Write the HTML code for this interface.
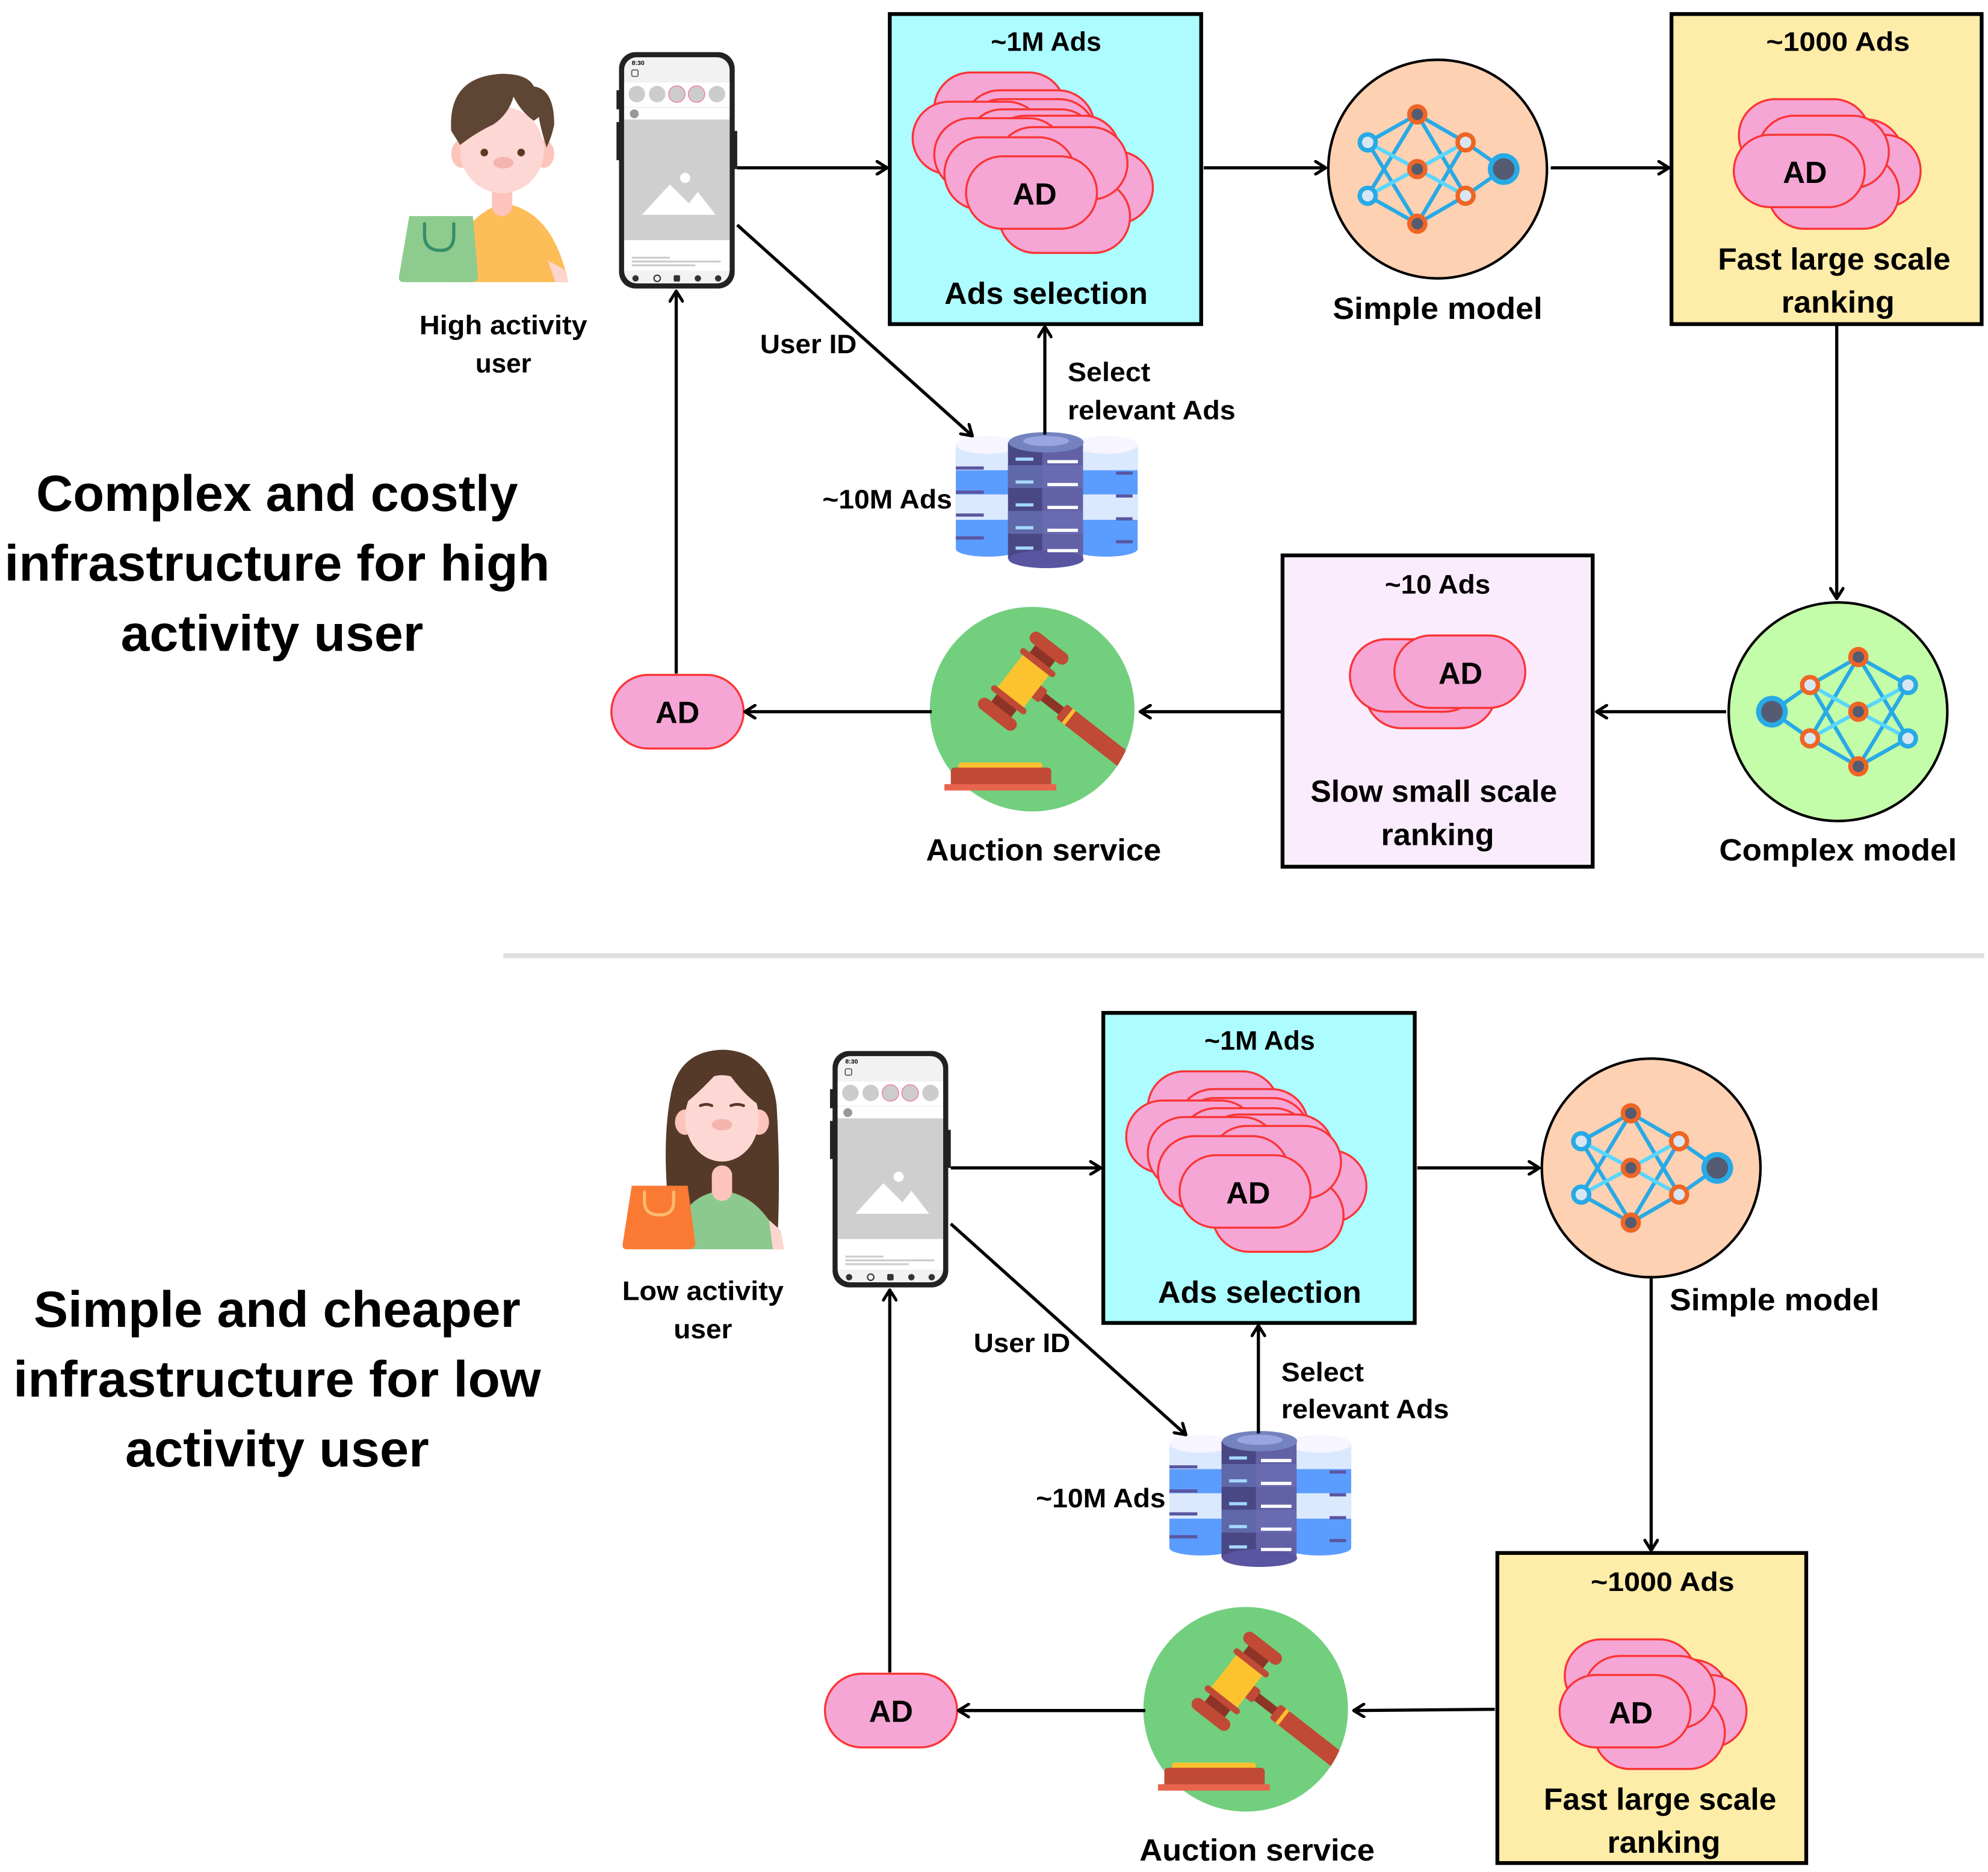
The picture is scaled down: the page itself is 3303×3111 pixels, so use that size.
<!DOCTYPE html>
<html><head><meta charset="utf-8"><style>
html,body{margin:0;padding:0;background:#fff;}
svg{display:block;}
text{font-family:"Liberation Sans",sans-serif;font-weight:bold;fill:#000;}
</style></head><body>
<svg width="3303" height="3111" viewBox="0 0 1564 1473" xmlns="http://www.w3.org/2000/svg">
<defs>
<marker id="ar" viewBox="0 0 12 12" refX="10" refY="6" markerWidth="12" markerHeight="12" markerUnits="userSpaceOnUse" orient="auto">
<path d="M2,1 L10,6 L2,11" fill="none" stroke="#000" stroke-width="2.4" stroke-linecap="round" stroke-linejoin="round"/>
</marker>
<g id="pill"><rect x="0" y="0" width="103" height="57" rx="28.5" fill="#f5a6d5" stroke="#fb3434" stroke-width="1.6"/></g>
<g id="phone">
<rect x="0" y="0" width="91" height="186" rx="13" fill="#222"/>
<rect x="-2" y="30" width="3" height="15" fill="#222"/><rect x="-2" y="55" width="3" height="30" fill="#222"/><rect x="90" y="62" width="3" height="30" fill="#222"/>
<rect x="4" y="4" width="83" height="178" rx="10" fill="#f2f2f2"/>
<text x="10" y="10" font-size="5">8:30</text>
<rect x="10" y="14" width="5" height="5" rx="1" fill="none" stroke="#555" stroke-width="0.8"/>
<rect x="4" y="24" width="83" height="19" fill="#fff"/>
<circle cx="14" cy="33" r="6.5" fill="#ccc"/><circle cx="30" cy="33" r="6.5" fill="#ccc"/><circle cx="45.5" cy="33" r="6.5" fill="#ccc" stroke="#f59" stroke-width="0.5"/><circle cx="61" cy="33" r="6.5" fill="#ccc" stroke="#f59" stroke-width="0.5"/><circle cx="77" cy="33" r="6.5" fill="#ccc"/>
<rect x="4" y="44" width="83" height="9" fill="#fff"/><circle cx="12" cy="48.5" r="3.5" fill="#999"/>
<rect x="4" y="53" width="83" height="95" fill="#cfcfcf"/>
<path d="M18,128 L40,104 L55,119 L62,110 L76,128 Z" fill="#fff"/><circle cx="52" cy="99" r="4" fill="#fff"/>
<rect x="4" y="148" width="83" height="24" fill="#fff"/>
<rect x="10" y="161" width="30" height="1.5" fill="#ccc"/><rect x="10" y="164" width="70" height="1.5" fill="#ccc"/><rect x="10" y="167" width="50" height="1.5" fill="#ccc"/>
<circle cx="13" cy="178" r="2.5" fill="#333"/><circle cx="30" cy="178" r="2.5" fill="none" stroke="#333"/><rect x="43" y="175.5" width="5" height="5" rx="1" fill="#333"/><circle cx="62" cy="178" r="2.5" fill="#333"/><circle cx="78" cy="178" r="2.5" fill="#333"/>
</g>
<g id="db">
<g>
<rect x="-71" y="8" width="50" height="82" fill="#5b9cff"/>
<rect x="-71" y="8" width="50" height="20" fill="#dbe9ff"/><rect x="-71" y="47" width="50" height="20" fill="#dbe9ff"/>
<ellipse cx="-46" cy="90" rx="25" ry="6" fill="#5b9cff"/>
<ellipse cx="-46" cy="8" rx="25" ry="7" fill="#f7f5ff"/>
<rect x="-71" y="25" width="22" height="2.5" fill="#5a55a0"/><rect x="-71" y="44" width="22" height="2.5" fill="#5a55a0"/><rect x="-71" y="62" width="22" height="2.5" fill="#5a55a0"/><rect x="-71" y="80" width="22" height="2.5" fill="#5a55a0"/>
</g>
<g>
<rect x="22" y="8" width="50" height="82" fill="#5b9cff"/>
<rect x="22" y="8" width="50" height="20" fill="#dbe9ff"/><rect x="22" y="47" width="50" height="20" fill="#dbe9ff"/>
<ellipse cx="47" cy="90" rx="25" ry="6" fill="#5b9cff"/>
<ellipse cx="47" cy="8" rx="25" ry="7" fill="#f7f5ff"/>
<rect x="55" y="29" width="13" height="2.5" fill="#5a55a0"/><rect x="55" y="47" width="13" height="2.5" fill="#5a55a0"/><rect x="55" y="65" width="13" height="2.5" fill="#5a55a0"/><rect x="55" y="83" width="13" height="2.5" fill="#5a55a0"/>
</g>
<g>
<rect x="-30" y="6" width="59" height="92" fill="#4a4785"/>
<rect x="-30" y="24" width="59" height="18" fill="#5f68a8"/><rect x="-30" y="60" width="59" height="18" fill="#5f68a8"/>
<rect x="-3" y="6" width="32" height="92" fill="#6d6cb3" opacity="0.7"/>
<ellipse cx="0" cy="98" rx="29.5" ry="7" fill="#5a55a0"/>
<ellipse cx="0" cy="6" rx="29.5" ry="8" fill="#7483c0"/><ellipse cx="0" cy="5" rx="18" ry="4" fill="#98a5e0"/>
<rect x="1" y="20" width="24" height="2.5" fill="#fff"/><rect x="1" y="38" width="24" height="2.5" fill="#fff"/><rect x="1" y="56" width="24" height="2.5" fill="#fff"/><rect x="1" y="74" width="24" height="2.5" fill="#fff"/><rect x="1" y="90" width="24" height="2.5" fill="#fff"/>
<rect x="-24" y="18" width="14" height="2.5" fill="#a5d8ff"/><rect x="-24" y="36" width="14" height="2.5" fill="#a5d8ff"/><rect x="-24" y="54" width="14" height="2.5" fill="#a5d8ff"/><rect x="-24" y="72" width="14" height="2.5" fill="#a5d8ff"/><rect x="-24" y="88" width="14" height="2.5" fill="#a5d8ff"/>
</g>
</g>
<g id="nn">
<g stroke="#27aae6" stroke-width="3">
<line x1="-55" y1="-21" x2="-16" y2="-43"/><line x1="-55" y1="-21" x2="-16" y2="43"/>
<line x1="-55" y1="21" x2="-16" y2="-43"/><line x1="-55" y1="21" x2="-16" y2="43"/>
<line x1="-16" y1="-43" x2="22" y2="-21"/><line x1="-16" y1="-43" x2="22" y2="21"/>
<line x1="-16" y1="43" x2="22" y2="-21"/><line x1="-16" y1="43" x2="22" y2="21"/>
<line x1="22" y1="-21" x2="52" y2="0"/><line x1="22" y1="21" x2="52" y2="0"/>
</g>
<g stroke="#5ad6fc" stroke-width="3">
<line x1="-55" y1="-21" x2="-16" y2="0"/><line x1="-55" y1="21" x2="-16" y2="0"/>
<line x1="-16" y1="0" x2="22" y2="-21"/><line x1="-16" y1="0" x2="22" y2="21"/>
</g>
<circle cx="-55" cy="-21" r="8" fill="#27aae6"/><circle cx="-55" cy="-21" r="4.5" fill="#d8e6f2"/>
<circle cx="-55" cy="21" r="8" fill="#27aae6"/><circle cx="-55" cy="21" r="4.5" fill="#d8e6f2"/>
<circle cx="-16" cy="-43" r="8" fill="#ee6524"/><circle cx="-16" cy="-43" r="4.5" fill="#555b70"/>
<circle cx="-16" cy="0" r="8" fill="#ee6524"/><circle cx="-16" cy="0" r="4.5" fill="#555b70"/>
<circle cx="-16" cy="43" r="8" fill="#ee6524"/><circle cx="-16" cy="43" r="4.5" fill="#555b70"/>
<circle cx="22" cy="-21" r="8" fill="#ee6524"/><circle cx="22" cy="-21" r="4.5" fill="#d8e6f2"/>
<circle cx="22" cy="21" r="8" fill="#ee6524"/><circle cx="22" cy="21" r="4.5" fill="#d8e6f2"/>
<circle cx="52" cy="0" r="12.5" fill="#27aae6"/><circle cx="52" cy="0" r="8.5" fill="#555b70"/>
</g>
<clipPath id="gc"><circle cx="0" cy="0" r="80.5"/></clipPath>
<g id="auction">
<circle cx="0" cy="0" r="80.5" fill="#72cf7e"/>
<g clip-path="url(#gc)">
<g transform="translate(-7,-22) rotate(38)">
<rect x="12" y="-3.5" width="28" height="7" fill="#8e3427"/>
<rect x="12" y="-6" width="8" height="12" rx="2" fill="#c04a35"/>
<rect x="38" y="-7" width="80" height="14" rx="2" fill="#c04a35"/>
<rect x="44" y="-7" width="3" height="14" fill="#fdc02e"/>
<rect x="-10" y="-30" width="20" height="60" fill="#8e3427"/>
<rect x="-13" y="-17" width="26" height="34" fill="#fdc32f"/>
<rect x="-17" y="-21" width="34" height="5" rx="2.5" fill="#c04a35"/>
<rect x="-17" y="16" width="34" height="5" rx="2.5" fill="#c04a35"/>
<rect x="-18" y="-38" width="36" height="10" rx="5" fill="#c04a35"/>
<rect x="-18" y="28" width="36" height="10" rx="5" fill="#c04a35"/>
</g>
</g>
<rect x="-58" y="42" width="66" height="6" rx="2" fill="#fdc02e"/>
<rect x="-64" y="46" width="79" height="15" rx="3" fill="#c04a35"/>
<rect x="-69" y="59" width="88" height="5" fill="#e8644d"/>
</g>
<g id="bigstack">
<use href="#pill" x="735" y="57"/><use href="#pill" x="758" y="71"/><use href="#pill" x="759" y="78"/>
<use href="#pill" x="718" y="80"/><use href="#pill" x="760" y="86"/><use href="#pill" x="778" y="91"/>
<use href="#pill" x="735" y="93"/><use href="#pill" x="804" y="119"/><use href="#pill" x="786" y="142"/>
<use href="#pill" x="784" y="100"/><use href="#pill" x="743" y="108"/><use href="#pill" x="760" y="123"/>
</g>
<g id="ystack">
<use href="#pill" x="1368" y="78"/><use href="#pill" x="1394" y="94"/><use href="#pill" x="1408" y="106"/>
<use href="#pill" x="1391" y="123"/><use href="#pill" x="1383" y="91"/><use href="#pill" x="1364" y="106"/>
</g>
</defs>

<!-- ===== TOP SECTION ===== -->
<text x="218" y="402" font-size="40" text-anchor="middle" textLength="379" lengthAdjust="spacingAndGlyphs">Complex and costly</text>
<text x="218" y="457" font-size="40" text-anchor="middle" textLength="429" lengthAdjust="spacingAndGlyphs">infrastructure for high</text>
<text x="214" y="512" font-size="40" text-anchor="middle" textLength="238" lengthAdjust="spacingAndGlyphs">activity user</text>

<!-- man -->
<g>
<path d="M351,222 Q360,170 396,160 Q435,165 447,222 Z" fill="#fdbd58"/>
<path d="M431,205 L437,222 L447,222 L444,212 Z" fill="#fdd5cf"/>
<rect x="387" y="140" width="16" height="30" rx="8" fill="#fdc4bb"/>
<ellipse cx="363" cy="121" rx="8" ry="11" fill="#fdc4bb"/><ellipse cx="428" cy="121" rx="8" ry="11" fill="#fdc4bb"/>
<ellipse cx="395" cy="118" rx="33" ry="34" fill="#fdd7d3"/>
<path d="M355,103 Q352,60 395,58 Q415,58 420,68 Q436,70 436,98 Q434,108 430,116 Q425,100 424,92 L420,95 Q410,88 404,76 Q400,90 388,98 Q375,104 362,114 Z" fill="#5f4533"/>
<circle cx="381" cy="120" r="3" fill="#5a3a25"/><circle cx="410" cy="120" r="3" fill="#5a3a25"/>
<ellipse cx="396" cy="128" rx="8" ry="4.5" fill="#f5b3ad"/>
<path d="M322,170 L372,170 L376,217 Q376,222 370,222 L318,222 Q313,222 314,217 Z" fill="#8ecb8f"/>
<path d="M334,176 L334,185 Q334,197 347,197 Q357,197 357,185 L357,176" fill="none" stroke="#358f68" stroke-width="2.5" stroke-linecap="round"/>
</g>
<text x="396" y="263" font-size="21" text-anchor="middle" textLength="132" lengthAdjust="spacingAndGlyphs">High activity</text>
<text x="396" y="293" font-size="21" text-anchor="middle" textLength="44" lengthAdjust="spacingAndGlyphs">user</text>

<use href="#phone" x="487" y="41"/>

<!-- ads selection box -->
<rect x="700" y="11" width="245" height="244" fill="#adfcff" stroke="#000" stroke-width="3"/>
<text x="823" y="40" font-size="21" text-anchor="middle" textLength="87" lengthAdjust="spacingAndGlyphs">~1M Ads</text>
<use href="#bigstack"/>
<text x="814" y="161" font-size="24" text-anchor="middle">AD</text>
<text x="823" y="239" font-size="24" text-anchor="middle" textLength="160" lengthAdjust="spacingAndGlyphs">Ads selection</text>

<!-- simple model -->
<circle cx="1131" cy="133" r="86" fill="#fed1b3" stroke="#000" stroke-width="2"/>
<use href="#nn" transform="translate(1131,133)"/>
<text x="1131" y="251" font-size="24" text-anchor="middle" textLength="165" lengthAdjust="spacingAndGlyphs">Simple model</text>

<!-- yellow box -->
<rect x="1315" y="11" width="244" height="244" fill="#feeca9" stroke="#000" stroke-width="3"/>
<text x="1446" y="40" font-size="21" text-anchor="middle" textLength="113" lengthAdjust="spacingAndGlyphs">~1000 Ads</text>
<use href="#ystack"/>
<text x="1420" y="144" font-size="24" text-anchor="middle">AD</text>
<text x="1443" y="212" font-size="24" text-anchor="middle" textLength="183" lengthAdjust="spacingAndGlyphs">Fast large scale</text>
<text x="1446" y="246" font-size="24" text-anchor="middle" textLength="89" lengthAdjust="spacingAndGlyphs">ranking</text>

<!-- complex model -->
<circle cx="1446" cy="560" r="86" fill="#c4fda9" stroke="#000" stroke-width="2"/>
<use href="#nn" transform="translate(1446,560) scale(-1,1)"/>
<text x="1446" y="677" font-size="24" text-anchor="middle" textLength="187" lengthAdjust="spacingAndGlyphs">Complex model</text>

<!-- slow box -->
<rect x="1009" y="437" width="244" height="245" fill="#fbecfd" stroke="#000" stroke-width="3"/>
<text x="1131" y="467" font-size="21" text-anchor="middle" textLength="83" lengthAdjust="spacingAndGlyphs">~10 Ads</text>
<use href="#pill" x="1074" y="516"/><use href="#pill" x="1062" y="503"/><use href="#pill" x="1097" y="500"/>
<text x="1149" y="538" font-size="24" text-anchor="middle">AD</text>
<text x="1128" y="631" font-size="24" text-anchor="middle" textLength="194" lengthAdjust="spacingAndGlyphs">Slow small scale</text>
<text x="1131" y="665" font-size="24" text-anchor="middle" textLength="89" lengthAdjust="spacingAndGlyphs">ranking</text>

<!-- auction -->
<use href="#auction" transform="translate(812,558)"/>
<text x="821" y="677" font-size="24" text-anchor="middle" textLength="185" lengthAdjust="spacingAndGlyphs">Auction service</text>

<!-- AD pill -->
<rect x="481" y="531" width="104" height="58" rx="29" fill="#f5a6d5" stroke="#fb3434" stroke-width="1.6"/>
<text x="533" y="569" font-size="24" text-anchor="middle">AD</text>

<!-- DB -->
<use href="#db" transform="translate(823,342)"/>
<text x="698" y="400" font-size="21" text-anchor="middle" textLength="102" lengthAdjust="spacingAndGlyphs">~10M Ads</text>
<text x="636" y="278" font-size="21" text-anchor="middle" textLength="76" lengthAdjust="spacingAndGlyphs">User ID</text>
<text x="840" y="300" font-size="21" textLength="65" lengthAdjust="spacingAndGlyphs">Select</text>
<text x="840" y="330" font-size="21" textLength="132" lengthAdjust="spacingAndGlyphs">relevant Ads</text>

<!-- arrows top -->
<g stroke="#000" stroke-width="2.5" fill="none" marker-end="url(#ar)">
<line x1="580" y1="132" x2="698" y2="132"/>
<line x1="947" y1="132" x2="1043" y2="132"/>
<line x1="1220" y1="132" x2="1313" y2="132"/>
<line x1="1445" y1="256" x2="1445" y2="471"/>
<line x1="1358" y1="560" x2="1256" y2="560"/>
<line x1="1008" y1="560" x2="897" y2="560"/>
<line x1="733" y1="560" x2="586" y2="560"/>
<line x1="532" y1="530" x2="532" y2="229"/>
<line x1="580" y1="177" x2="765" y2="343"/>
<line x1="822" y1="342" x2="822" y2="257"/>
</g>

<!-- divider -->
<line x1="396" y1="752" x2="1561" y2="752" stroke="#e0e0e0" stroke-width="4"/>

<!-- ===== BOTTOM SECTION ===== -->
<text x="218" y="1044" font-size="40" text-anchor="middle" textLength="383" lengthAdjust="spacingAndGlyphs">Simple and cheaper</text>
<text x="218" y="1099" font-size="40" text-anchor="middle" textLength="415" lengthAdjust="spacingAndGlyphs">infrastructure for low</text>
<text x="218" y="1154" font-size="40" text-anchor="middle" textLength="239" lengthAdjust="spacingAndGlyphs">activity user</text>

<!-- woman -->
<g>
<path d="M527,960 Q520,900 528,860 Q535,826 570,826 Q606,828 611,870 Q614,920 612,968 L600,975 L540,975 Z" fill="#553a29"/>
<path d="M527,983 Q535,940 568,937 Q600,940 617,983 Z" fill="#8cc98e"/>
<path d="M605,960 L608,983 L617,983 L614,968 Z" fill="#fdd5cf"/>
<rect x="560" y="917" width="16" height="28" rx="8" fill="#fdc4bb"/>
<ellipse cx="539" cy="883" rx="8" ry="10" fill="#fdc4bb"/><ellipse cx="597" cy="883" rx="8" ry="10" fill="#fdc4bb"/>
<ellipse cx="568" cy="880" rx="29" ry="34" fill="#fdd7d3"/>
<path d="M537,870 Q540,842 568,840 Q552,858 537,870 Z" fill="#553a29"/>
<path d="M598,870 Q596,848 570,840 Q585,862 598,870 Z" fill="#553a29"/>
<path d="M551,870 Q556,868 560,870 M575,870 Q580,868 585,870" stroke="#553a29" stroke-width="2.2" fill="none" stroke-linecap="round"/>
<ellipse cx="568" cy="885" rx="8" ry="4.5" fill="#f5b3ad"/>
<path d="M497,933 L541,933 L547,978 Q547,983 541,983 L493,983 Q489,983 490,978 Z" fill="#fa7a33"/>
<path d="M507,938 L507,945 Q507,956 519,956 Q530,956 530,945 L530,938" fill="none" stroke="#fdba6e" stroke-width="2.5" stroke-linecap="round"/>
</g>
<text x="553" y="1023" font-size="21" text-anchor="middle" textLength="127" lengthAdjust="spacingAndGlyphs">Low activity</text>
<text x="553" y="1053" font-size="21" text-anchor="middle" textLength="46" lengthAdjust="spacingAndGlyphs">user</text>

<use href="#phone" x="655" y="827"/>

<rect x="868" y="797" width="245" height="244" fill="#adfcff" stroke="#000" stroke-width="3"/>
<text x="991" y="826" font-size="21" text-anchor="middle" textLength="87" lengthAdjust="spacingAndGlyphs">~1M Ads</text>
<use href="#bigstack" transform="translate(168,786)"/>
<text x="982" y="947" font-size="24" text-anchor="middle">AD</text>
<text x="991" y="1025" font-size="24" text-anchor="middle" textLength="160" lengthAdjust="spacingAndGlyphs">Ads selection</text>

<circle cx="1299" cy="919" r="86" fill="#fed1b3" stroke="#000" stroke-width="2"/>
<use href="#nn" transform="translate(1299,919)"/>
<text x="1396" y="1031" font-size="24" text-anchor="middle" textLength="165" lengthAdjust="spacingAndGlyphs">Simple model</text>

<rect x="1178" y="1222" width="243" height="244" fill="#feeca9" stroke="#000" stroke-width="3"/>
<text x="1308" y="1252" font-size="21" text-anchor="middle" textLength="113" lengthAdjust="spacingAndGlyphs">~1000 Ads</text>
<use href="#ystack" transform="translate(-137,1212)"/>
<text x="1283" y="1356" font-size="24" text-anchor="middle">AD</text>
<text x="1306" y="1424" font-size="24" text-anchor="middle" textLength="183" lengthAdjust="spacingAndGlyphs">Fast large scale</text>
<text x="1309" y="1458" font-size="24" text-anchor="middle" textLength="89" lengthAdjust="spacingAndGlyphs">ranking</text>

<use href="#auction" transform="translate(980,1345)"/>
<text x="989" y="1464" font-size="24" text-anchor="middle" textLength="185" lengthAdjust="spacingAndGlyphs">Auction service</text>

<rect x="649" y="1317" width="104" height="58" rx="29" fill="#f5a6d5" stroke="#fb3434" stroke-width="1.6"/>
<text x="701" y="1355" font-size="24" text-anchor="middle">AD</text>

<use href="#db" transform="translate(991,1128)"/>
<text x="866" y="1186" font-size="21" text-anchor="middle" textLength="102" lengthAdjust="spacingAndGlyphs">~10M Ads</text>
<text x="804" y="1064" font-size="21" text-anchor="middle" textLength="76" lengthAdjust="spacingAndGlyphs">User ID</text>
<text x="1008" y="1087" font-size="21" textLength="65" lengthAdjust="spacingAndGlyphs">Select</text>
<text x="1008" y="1116" font-size="21" textLength="132" lengthAdjust="spacingAndGlyphs">relevant Ads</text>

<g stroke="#000" stroke-width="2.5" fill="none" marker-end="url(#ar)">
<line x1="748" y1="919" x2="866" y2="919"/>
<line x1="1115" y1="919" x2="1211" y2="919"/>
<line x1="1299" y1="1006" x2="1299" y2="1220"/>
<line x1="1176" y1="1345" x2="1065" y2="1346"/>
<line x1="901" y1="1346" x2="754" y2="1346"/>
<line x1="700" y1="1316" x2="700" y2="1015"/>
<line x1="748" y1="963" x2="933" y2="1129"/>
<line x1="990" y1="1128" x2="990" y2="1043"/>
</g>
</svg>
</body></html>
